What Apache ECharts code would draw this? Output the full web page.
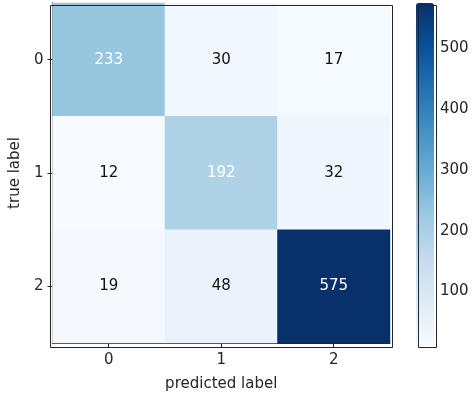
<!DOCTYPE html>
<html>
<head>
<meta charset="utf-8">
<script src="https://cdn.jsdelivr.net/npm/echarts@6/dist/echarts.min.js"></script>
<style>
html,body{margin:0;padding:0;background:#fff;}
#chart{width:474px;height:397px;}
</style>
</head>
<body>
<div id="chart"></div>
<script>
// 混淆矩阵数据
var predictedLabels = ['0', '1', '2'];
var trueLabels = ['0', '1', '2'];
var row0 = [233, 30, 17];
var row1 = [12, 192, 32];
var row2 = [19, 48, 575];
var colorbarTicks = [100, 200, 300, 400, 500];

var BLUES = ['#f7fbff', '#deebf7', '#c6dbef', '#9ecae1', '#6baed6', '#4292c6', '#2171b5', '#08519c', '#08306b'];
var FONT = 'DejaVu Sans';
var INK = '#262626';

var rows = [row0, row1, row2];
var cells = [];
var vmin = Infinity, vmax = -Infinity;
for (var i = 0; i < rows.length; i++) {
	for (var j = 0; j < rows[i].length; j++) {
		cells.push([j, i, rows[i][j]]);
		vmin = Math.min(vmin, rows[i][j]);
		vmax = Math.max(vmax, rows[i][j]);
	}
}

var myChart = echarts.init(document.getElementById('chart'));
var option = {
	animation: false,
	textStyle: {fontFamily: FONT},
	grid: [
		{left: 48, top: 3, width: 342, height: 342, show: false},
		{left: 416, top: 3, width: 18, height: 342, show: false}
	],
	xAxis: [
		{
			type: 'category', gridIndex: 0, data: predictedLabels, position: 'bottom',
			name: 'predicted label', nameLocation: 'middle', nameGap: 34,
			nameTextStyle: {fontSize: 15, color: INK, fontFamily: FONT},
			axisLine: {show: true, lineStyle: {color: INK}},
			axisTick: {show: true, alignWithLabel: true, length: 5, lineStyle: {color: INK}},
			axisLabel: {fontSize: 15, color: INK, margin: 10, fontFamily: FONT},
			splitLine: {show: false}
		},
		{type: 'value', gridIndex: 1, show: false}
	],
	yAxis: [
		{
			type: 'category', gridIndex: 0, data: trueLabels, inverse: true,
			name: 'true label', nameLocation: 'middle', nameGap: 28, nameRotate: 90,
			nameTextStyle: {fontSize: 15, color: INK, fontFamily: FONT},
			axisLine: {show: true, lineStyle: {color: INK}},
			axisTick: {show: true, alignWithLabel: true, length: 5, lineStyle: {color: INK}},
			axisLabel: {fontSize: 15, color: INK, margin: 9, fontFamily: FONT},
			splitLine: {show: false}
		},
		{
			type: 'value', gridIndex: 1, position: 'right', min: vmin, max: vmax,
			axisLine: {show: false},
			axisTick: {show: true, length: 5, customValues: colorbarTicks, lineStyle: {color: INK}},
			axisLabel: {show: true, fontSize: 15, color: INK, margin: 6, customValues: colorbarTicks, fontFamily: FONT},
			splitLine: {show: false}
		}
	],
	visualMap: {
		type: 'continuous', min: vmin, max: vmax, seriesIndex: 0,
		orient: 'vertical', left: 416, top: 3, padding: 0,
		itemWidth: 18, itemHeight: 342, text: null, showLabel: false,
		calculable: false, realtime: false,
		inRange: {color: BLUES}
	},
	graphic: [
		{type: 'rect', left: 48, top: 3, shape: {width: 342, height: 342}, style: {fill: 'none', stroke: INK, lineWidth: 1}, z: 100},
		{type: 'rect', left: 416, top: 3, shape: {width: 18, height: 342}, style: {fill: 'none', stroke: INK, lineWidth: 1}, z: 100}
	],
	series: [{
		type: 'heatmap', xAxisIndex: 0, yAxisIndex: 0, data: cells,
		label: {
			show: true, fontSize: 15, fontFamily: FONT,
			formatter: function (p) {
				return (p.value[2] > 150 ? '{w|' : '{b|') + p.value[2] + '}';
			},
			rich: {
				w: {color: '#fff', fontSize: 15, fontFamily: FONT},
				b: {color: '#111', fontSize: 15, fontFamily: FONT}
			}
		},
		itemStyle: {borderWidth: 0},
		emphasis: {disabled: true}
	}]
};
myChart.setOption(option);
</script>
</body>
</html>
